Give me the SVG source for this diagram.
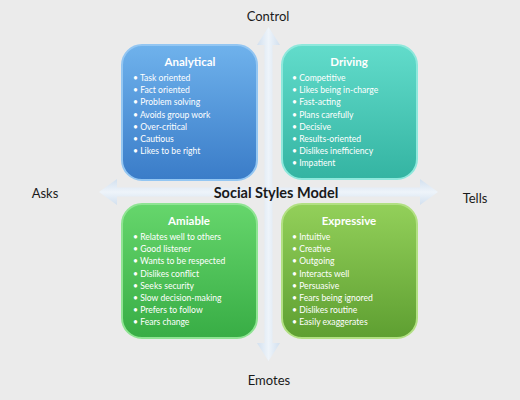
<svg xmlns="http://www.w3.org/2000/svg" width="520" height="400" viewBox="0 0 520 400">
<defs>
<linearGradient id="gBlue" x1="0" y1="0" x2="0" y2="1"><stop offset="0" stop-color="#6fb2ec"/><stop offset="1" stop-color="#3a7cc8"/></linearGradient>
<linearGradient id="gTeal" x1="0" y1="0" x2="0" y2="1"><stop offset="0" stop-color="#62dccb"/><stop offset="1" stop-color="#34b4a2"/></linearGradient>
<linearGradient id="gGreen" x1="0" y1="0" x2="0" y2="1"><stop offset="0" stop-color="#66d66c"/><stop offset="1" stop-color="#38ad45"/></linearGradient>
<linearGradient id="gLime" x1="0" y1="0" x2="0" y2="1"><stop offset="0" stop-color="#93d05a"/><stop offset="1" stop-color="#5e9f31"/></linearGradient>
<linearGradient id="gArrV" x1="0" y1="0" x2="1" y2="0"><stop offset="0" stop-color="#d2e0ef"/><stop offset="0.5" stop-color="#eef4fa"/><stop offset="1" stop-color="#d2e0ef"/></linearGradient>
<linearGradient id="gArrH" x1="0" y1="0" x2="0" y2="1"><stop offset="0" stop-color="#d2e0ef"/><stop offset="0.5" stop-color="#eef4fa"/><stop offset="1" stop-color="#d2e0ef"/></linearGradient>
</defs>
<style>
.box{stroke-width:2}
.title{font-family:Lato,"Liberation Sans",sans-serif;font-weight:bold;font-size:11.5px;fill:#ffffff;text-anchor:middle}
.item{font-family:Lato,"Liberation Sans",sans-serif;font-size:8.6px;fill:#ffffff}
.axis{font-family:Lato,"Liberation Sans",sans-serif;font-size:13px;fill:#1a1a1a;text-anchor:middle}
.main{font-family:Lato,"Liberation Sans",sans-serif;font-weight:bold;font-size:14.5px;fill:#1a1a1a;text-anchor:middle}
</style>
<rect width="520" height="400" fill="#ebebeb"/>
<g id="connectors">
<path d="M268.5,27 L280,45 L272.5,45 L272.5,343 L280,343 L268.5,361 L257,343 L264.5,343 L264.5,45 L257,45 Z" fill="url(#gArrV)"/>
<path d="M99,192 L117,179 L117,187.5 L420,187.5 L420,179 L438,192 L420,205 L420,196.5 L117,196.5 L117,205 Z" fill="url(#gArrH)"/>
</g>
<g id="analytical">
<rect class="box" x="122" y="45" width="135" height="135" rx="20" fill="url(#gBlue)" stroke="#93c6f2"/>
<text class="title" x="190" y="66">Analytical</text>
<text class="item" x="133" y="81">• Task oriented</text>
<text class="item" x="133" y="93.2">• Fact oriented</text>
<text class="item" x="133" y="105.4">• Problem solving</text>
<text class="item" x="133" y="117.6">• Avoids group work</text>
<text class="item" x="133" y="129.8">• Over-critical</text>
<text class="item" x="133" y="142">• Cautious</text>
<text class="item" x="133" y="154.2">• Likes to be right</text>
</g>
<g id="driving">
<rect class="box" x="282" y="45" width="135" height="134" rx="20" fill="url(#gTeal)" stroke="#8ee8dc"/>
<text class="title" x="349" y="66">Driving</text>
<text class="item" x="292" y="81">• Competitive</text>
<text class="item" x="292" y="93.2">• Likes being in-charge</text>
<text class="item" x="292" y="105.4">• Fast-acting</text>
<text class="item" x="292" y="117.6">• Plans carefully</text>
<text class="item" x="292" y="129.8">• Decisive</text>
<text class="item" x="292" y="142">• Results-oriented</text>
<text class="item" x="292" y="154.2">• Dislikes inefficiency</text>
<text class="item" x="292" y="166.4">• Impatient</text>
</g>
<g id="amiable">
<rect class="box" x="122" y="204" width="135" height="134" rx="20" fill="url(#gGreen)" stroke="#8fe493"/>
<text class="title" x="189" y="225">Amiable</text>
<text class="item" x="133" y="240">• Relates well to others</text>
<text class="item" x="133" y="252.2">• Good listener</text>
<text class="item" x="133" y="264.4">• Wants to be respected</text>
<text class="item" x="133" y="276.6">• Dislikes conflict</text>
<text class="item" x="133" y="288.8">• Seeks security</text>
<text class="item" x="133" y="301">• Slow decision-making</text>
<text class="item" x="133" y="313.2">• Prefers to follow</text>
<text class="item" x="133" y="325.4">• Fears change</text>
</g>
<g id="expressive">
<rect class="box" x="282" y="204" width="135" height="134" rx="20" fill="url(#gLime)" stroke="#b2e083"/>
<text class="title" x="349" y="225">Expressive</text>
<text class="item" x="292" y="240">• Intuitive</text>
<text class="item" x="292" y="252.2">• Creative</text>
<text class="item" x="292" y="264.4">• Outgoing</text>
<text class="item" x="292" y="276.6">• Interacts well</text>
<text class="item" x="292" y="288.8">• Persuasive</text>
<text class="item" x="292" y="301">• Fears being ignored</text>
<text class="item" x="292" y="313.2">• Dislikes routine</text>
<text class="item" x="292" y="325.4">• Easily exaggerates</text>
</g>
<text class="main" x="276" y="198">Social Styles Model</text>
<text class="axis" x="268" y="21">Control</text>
<text class="axis" x="269" y="385">Emotes</text>
<text class="axis" x="45" y="198">Asks</text>
<text class="axis" x="475" y="203">Tells</text>
</svg>
